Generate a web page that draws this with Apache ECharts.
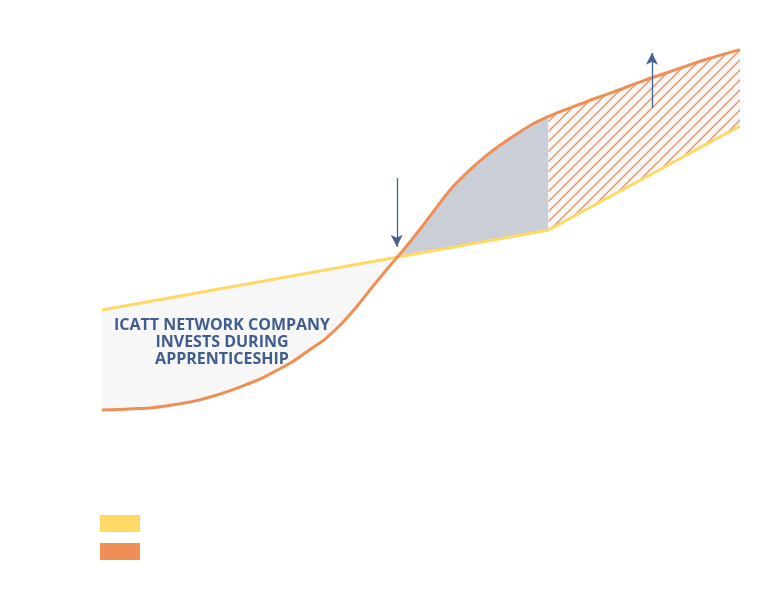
<!DOCTYPE html>
<html>
<head>
<meta charset="utf-8">
<script src="https://cdn.jsdelivr.net/npm/echarts@6/dist/echarts.min.js"></script>
<style>
  html, body { margin: 0; padding: 0; background: #fff; }
  #chart { width: 768px; height: 606px; }
</style>
</head>
<body>
<div id="chart"></div>
<script>
var curveX = [0, 0.25, 0.5, 0.75, 1, 1.25, 1.5, 1.75, 2, 2.25, 2.5, 2.75, 3, 3.25, 3.5, 3.75, 4, 4.25, 4.5, 4.75,
  5, 5.25, 5.5, 5.75, 6, 6.25, 6.5, 6.75, 7, 7.25, 7.5, 7.75, 8, 8.5, 9, 9.5, 10];
// orange curve (apprentice contribution)
var orangeVals = [0.5, 0.51, 0.53, 0.55, 0.6, 0.66, 0.74, 0.85, 0.98, 1.13, 1.29, 1.5, 1.72, 2.0, 2.28, 2.65, 3.1, 3.6, 4.08, 4.55,
  5.05, 5.58, 6.08, 6.48, 6.83, 7.13, 7.4, 7.65, 7.84, 8.0, 8.15, 8.3, 8.44, 8.74, 9.01, 9.28, 9.51];
// yellow line (apprentice cost), straight segments
var yellowX = [0, 7, 10];
var yellowVals = [3.0, 5.0, 7.6];
// end of apprenticeship: hatched area starts here
var splitX = 7;
// arrows [x, yFrom, yTo]
var arrows = [[4.62, 6.3, 4.58], [8.62, 8.05, 9.43]];
var seriesNames = ['Apprentice cost', 'Apprentice contribution'];
var noteText = 'ICATT NETWORK COMPANY\nINVESTS DURING\nAPPRENTICESHIP';

var YELLOW = '#ffd966';
var ORANGE = '#f08f55';

function yellowAt(x) {
  for (var i = 0; i < yellowX.length - 1; i++) {
    if (x >= yellowX[i] && x <= yellowX[i + 1]) {
      var t = (x - yellowX[i]) / (yellowX[i + 1] - yellowX[i]);
      return yellowVals[i] + t * (yellowVals[i + 1] - yellowVals[i]);
    }
  }
  return yellowVals[yellowVals.length - 1];
}
function orangeAt(x) {
  for (var i = 0; i < curveX.length - 1; i++) {
    if (x >= curveX[i] && x <= curveX[i + 1]) {
      var t = (x - curveX[i]) / (curveX[i + 1] - curveX[i]);
      return orangeVals[i] + t * (orangeVals[i + 1] - orangeVals[i]);
    }
  }
  return orangeVals[orangeVals.length - 1];
}

// where orange passes above yellow
var cross = null;
for (var i = 0; i < curveX.length - 1; i++) {
  var d0 = orangeVals[i] - yellowAt(curveX[i]);
  var d1 = orangeVals[i + 1] - yellowAt(curveX[i + 1]);
  if (d0 < 0 && d1 >= 0) {
    var t = d0 / (d0 - d1);
    var cx = curveX[i] + t * (curveX[i + 1] - curveX[i]);
    cross = [cx, orangeVals[i] + t * (orangeVals[i + 1] - orangeVals[i])];
    break;
  }
}

function orangeBetween(a, b) {
  var pts = [];
  for (var i = 0; i < curveX.length; i++) {
    if (curveX[i] > a && curveX[i] < b) pts.push([curveX[i], orangeVals[i]]);
  }
  return pts;
}
function yellowBetween(a, b) {
  var pts = [];
  for (var i = 0; i < yellowX.length; i++) {
    if (yellowX[i] > a && yellowX[i] < b) pts.push([yellowX[i], yellowVals[i]]);
  }
  return pts;
}

// hatch pattern
var hatch = document.createElement('canvas');
hatch.width = 10; hatch.height = 10;
var hc = hatch.getContext('2d');
hc.fillStyle = '#f7f7f7';
hc.fillRect(0, 0, 10, 10);
hc.strokeStyle = ORANGE;
hc.lineWidth = 1.3;
hc.beginPath();
hc.moveTo(-5, 5); hc.lineTo(5, -5);
hc.moveTo(0, 10); hc.lineTo(10, 0);
hc.moveTo(5, 15); hc.lineTo(15, 5);
hc.stroke();

var xMin = curveX[0], xMax = curveX[curveX.length - 1];

// region polygons in data units
var regionStart = [[xMin, orangeVals[0]]].concat(orangeBetween(xMin, cross[0]), [cross],
  yellowBetween(xMin, cross[0]).reverse(), [[xMin, yellowAt(xMin)]]);
var regionMid = [cross].concat(orangeBetween(cross[0], splitX), [[splitX, orangeAt(splitX)], [splitX, yellowAt(splitX)]],
  yellowBetween(cross[0], splitX).reverse());
var regionEnd = [[splitX, orangeAt(splitX)]].concat(orangeBetween(splitX, xMax), [[xMax, orangeVals[orangeVals.length - 1]], [xMax, yellowAt(xMax)]],
  yellowBetween(splitX, xMax).reverse(), [[splitX, yellowAt(splitX)]]);

var chart = echarts.init(document.getElementById('chart'));

var option = {
  animation: false,
  backgroundColor: '#ffffff',
  grid: { left: 102, right: 28, top: 30, height: 400 },
  xAxis: { type: 'value', min: 0, max: 10, show: false },
  yAxis: { type: 'value', min: 0, max: 10, show: false },
  legend: {
    orient: 'vertical',
    left: 100,
    top: 515,
    padding: 0,
    itemWidth: 40,
    itemHeight: 17,
    itemGap: 11,
    icon: 'rect',
    selectedMode: false,
    data: seriesNames,
    formatter: function () { return ''; }
  },
  graphic: [{
    type: 'text',
    x: 222,
    y: 317,
    z: 100,
    silent: true,
    style: {
      text: noteText,
      fill: '#3f5d8f',
      font: 'bold 16px "Open Sans", sans-serif',
      textAlign: 'center',
      lineHeight: 17
    }
  }],
  series: [
    {
      type: 'custom',
      silent: true,
      z: 1,
      data: [[0, 0]],
      renderItem: function (params, api) {
        function pts(list) { return list.map(function (p) { return api.coord(p); }); }
        var a = api.coord([splitX, yellowAt(splitX)]);
        var b = api.coord([splitX, orangeAt(splitX)]);
        return {
          type: 'group',
          children: [
            { type: 'polygon', shape: { points: pts(regionStart) }, style: { fill: '#f7f7f7' } },
            { type: 'polygon', shape: { points: pts(regionMid) }, style: { fill: '#caced6' } },
            { type: 'polygon', shape: { points: pts(regionEnd) }, style: { fill: { image: hatch, repeat: 'repeat' } } },
            {
              type: 'line',
              shape: { x1: a[0], y1: a[1], x2: b[0], y2: b[1] },
              style: { stroke: '#ffffff', lineWidth: 1, lineDash: [3, 2] }
            }
          ]
        };
      }
    },
    {
      name: seriesNames[0],
      type: 'line',
      z: 3,
      showSymbol: false,
      data: yellowX.map(function (x, i) { return [x, yellowVals[i]]; }),
      itemStyle: { color: YELLOW },
      lineStyle: { color: YELLOW, width: 3 },
      markLine: {
        silent: true,
        symbol: ['none', 'arrow'],
        symbolSize: [9, 12],
        label: { show: false },
        lineStyle: { color: '#46628f', width: 1.3, type: 'solid' },
        data: arrows.map(function (a) {
          return [{ coord: [a[0], a[1]] }, { coord: [a[0], a[2]] }];
        })
      }
    },
    {
      name: seriesNames[1],
      type: 'line',
      z: 4,
      showSymbol: false,
      smooth: 0.3,
      data: curveX.map(function (x, i) { return [x, orangeVals[i]]; }),
      itemStyle: { color: ORANGE },
      lineStyle: { color: ORANGE, width: 3 }
    }
  ]
};

chart.setOption(option);
</script>
</body>
</html>
